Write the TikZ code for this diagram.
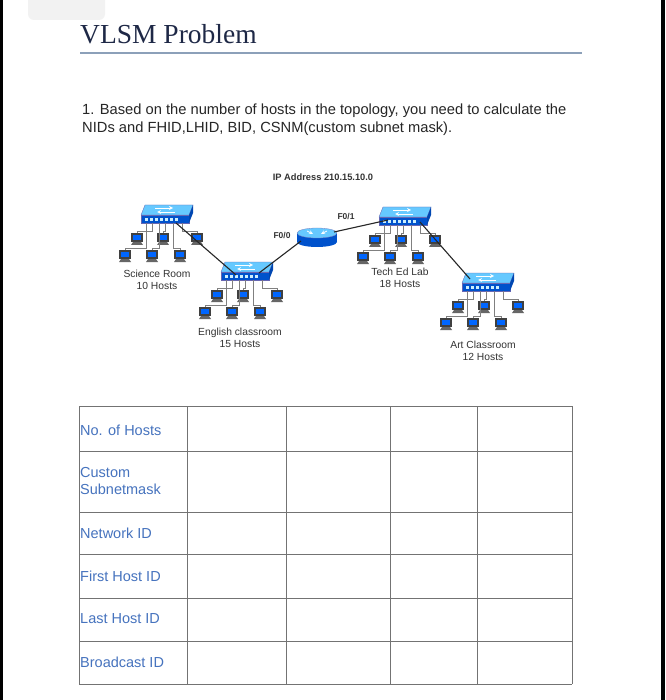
\documentclass[tikz,border=0pt]{standalone}
\usepackage{fontspec}
\setmainfont{Liberation Sans}
\newfontfamily\titlefont{Liberation Serif}
\begin{document}
\begin{tikzpicture}[x=1pt,y=-1pt,
  cell/.style={draw=black!55,line width=0.9pt},
  lbl/.style={font=\fontsize{14.5}{17}\selectfont,anchor=west,align=left,inner sep=0pt},
  net/.style={font=\fontsize{10.3}{12.5}\selectfont,text=black!80,align=center,inner sep=0pt},
  link/.style={line width=1.1pt,black!85},
  wire/.style={black!50,line width=0.5pt}]
\definecolor{tblue}{RGB}{70,115,190}
\definecolor{navy}{RGB}{30,40,70}
\tikzset{lbl/.append style={text=tblue}}
\useasboundingbox (0,0) rectangle (665,700);
\fill[white] (0,0) rectangle (665,700);
\fill[black] (0,0) rectangle (3,700);
\fill[black] (661,0) rectangle (665,700);
\fill[black!5,rounded corners=6pt] (28,-10) rectangle (105,20);
% title
\node[anchor=base west,inner sep=0pt,font=\titlefont\fontsize{27.5}{30}\selectfont,text=navy] (title) at (80,44) {VLSM Problem};
\draw[color={rgb,255:red,140;green,160;blue,185},line width=1.2pt] (80,53) -- (582,53);
\node[anchor=base west,inner sep=0pt,font=\fontsize{14.7}{17}\selectfont,text=black!85] (q1) at (82,115) {1. Based on the number of hosts in the topology, you need to calculate the};
\node[anchor=base west,inner sep=0pt,font=\fontsize{14.7}{17}\selectfont,text=black!85] (q2) at (82,133) {NIDs and FHID,LHID, BID, CSNM(custom subnet mask).};
\node[net,font=\fontsize{9.3}{11}\selectfont\bfseries] (ip) at (323,177) {IP Address 210.15.10.0};
% switches
\newcommand{\myswitch}[3]{%
  \coordinate (#1) at (#2,#3);
  \fill[blue!35!cyan!60!white,draw=blue!50!black!60,line width=0.3pt] (#2-22,#3-10) -- (#2+26,#3-10) -- (#2+22,#3+0) -- (#2-26,#3+0) -- cycle;
  \fill[blue!60!cyan!80!black,draw=blue!50!black!60,line width=0.3pt] (#2-26,#3) rectangle (#2+22,#3+8);
  \fill[blue!60!cyan!70!black] (#2+22,#3) -- (#2+26,#3-10) -- (#2+26,#3-2) -- (#2+22,#3+8) -- cycle;
  \foreach \k in {0,...,6} \fill[white!80!cyan] (#2-22+\k*5,#3+3) rectangle ++(3,3);
  \draw[white,line width=0.8pt,-stealth] (#2-12,#3-7) -- (#2+6,#3-7);
  \draw[white,line width=0.8pt,-stealth] (#2+8,#3-3) -- (#2-10,#3-3);
  \foreach \dx/\dy in {-30/23,-4/23,30/23,-42/40,-15/40,13/40}{
    \draw[wire] (#2+\dx*0.5,#3+8) |- (#2+\dx,#3+\dy-7) -- (#2+\dx,#3+\dy-5);
    \fill[black!75] (#2+\dx-6,#3+\dy-5) rectangle (#2+\dx+6,#3+\dy+4);
    \fill[blue!60!cyan] (#2+\dx-4,#3+\dy-3) rectangle (#2+\dx+4,#3+\dy+2);
    \fill[black!60] (#2+\dx-4,#3+\dy+4) -- (#2+\dx+4,#3+\dy+4) -- (#2+\dx+6,#3+\dy+7) -- (#2+\dx-6,#3+\dy+7) -- cycle;
  }}
\myswitch{sw1}{167}{215}
\myswitch{sw2}{247}{272}
\myswitch{sw3}{405}{217}
\myswitch{sw4}{488}{283}
% router
\coordinate (rt) at (317,237);
\fill[blue!60!cyan!80!black] (297,233) rectangle (337,242);
\fill[blue!60!cyan!80!black] (317,242) ellipse (20pt and 5pt);
\fill[blue!35!cyan!60!white,draw=blue!50!black!50,line width=0.3pt] (317,233) ellipse (20pt and 5pt);
\draw[white,line width=0.8pt,-stealth] (307,231) -- (313,234);
\draw[white,line width=0.8pt,-stealth] (327,231) -- (321,234);
\draw[link] (176,223) -- (236,275);
\draw[link] (259,273) -- (301,241);
\draw[link] (334,232) -- (388,220);
\draw[link] (420,222) -- (470,279);
\node[net,font=\fontsize{8.5}{10}\selectfont\bfseries] (f00) at (282,236) {F0/0};
\node[net,font=\fontsize{8.5}{10}\selectfont\bfseries] (f01) at (346,217) {F0/1};
\node[net] (l1) at (157,280) {Science Room\\10 Hosts};
\node[net] (l2) at (240,338) {English classroom\\15 Hosts};
\node[net] (l3) at (400,278) {Tech Ed Lab\\18 Hosts};
\node[net] (l4) at (483,351) {Art Classroom\\12 Hosts};
% table
\foreach \x in {79,187,286,390,477,572} \draw[cell] (\x,406) -- (\x,684);
\foreach \y in {406,451,512,554,598,641,684} \draw[cell] (79,\y) -- (572,\y);
\node[lbl] (r1) at (80,430) {No. of Hosts};
\node[lbl] (r2) at (80,481) {Custom\\Subnetmask};
\node[lbl] (r3) at (80,533) {Network ID};
\node[lbl] (r4) at (80,576) {First Host ID};
\node[lbl] (r5) at (80,619) {Last Host ID};
\node[lbl] (r6) at (80,662) {Broadcast ID};
\end{tikzpicture}
\end{document}
